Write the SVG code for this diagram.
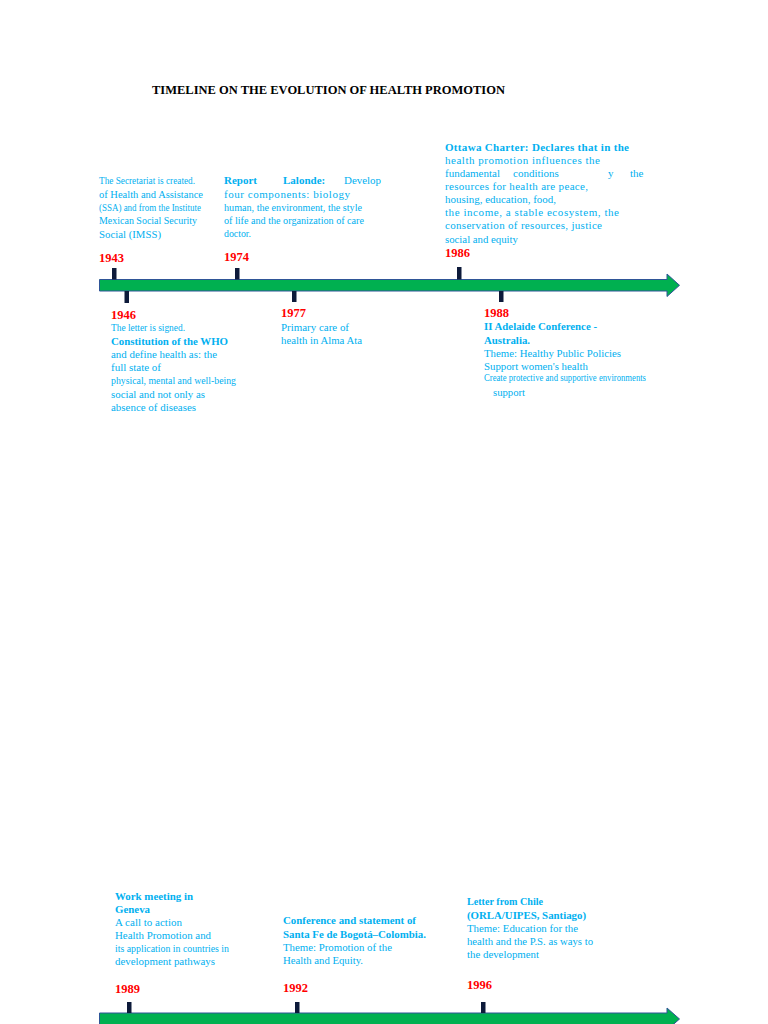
<svg xmlns="http://www.w3.org/2000/svg" width="768" height="1024" viewBox="0 0 768 1024">
<style>
text{font-family:"Liberation Serif","Times New Roman",serif}
.t{fill:#00B0F0;font-size:11px}
.s{fill:#00B0F0;font-size:10px}
.b{fill:#00B0F0;font-size:11px;font-weight:bold}
.y{fill:#FF0000;font-size:12.5px;font-weight:bold}
.title{fill:#000;font-size:12px;font-weight:bold}
.tick{fill:#0D1A3A}
.arrow{fill:#00B050;stroke:#2F5597;stroke-width:1}
</style>
<rect width="768" height="1024" fill="#fff"/>
<text class="title" x="152" y="94" textLength="353" lengthAdjust="spacingAndGlyphs">TIMELINE ON THE EVOLUTION OF HEALTH PROMOTION</text>

<g id="connectors">
<path class="arrow" d="M99.5,279.5 H667 V274 L679.5,285.3 L667,296.5 V291 H99.5 Z"/>
<path class="arrow" d="M99.5,1013 H667 V1008 L679.5,1019 L667,1030 V1025 H99.5 Z"/>
<rect class="tick" x="112" y="268" width="4.5" height="11.5"/>
<rect class="tick" x="235" y="268" width="4.5" height="11.5"/>
<rect class="tick" x="457" y="267" width="4.5" height="12.5"/>
<rect class="tick" x="124.5" y="291" width="4.5" height="12"/>
<rect class="tick" x="292" y="291" width="4.5" height="11"/>
<rect class="tick" x="499" y="291" width="4.5" height="11"/>
<rect class="tick" x="127" y="1002" width="4.5" height="11"/>
<rect class="tick" x="295" y="1002" width="4.5" height="11"/>
<rect class="tick" x="481" y="1002" width="4.5" height="11"/>
</g>

<g id="n1943">
<text class="s" x="99" y="184" textLength="96" lengthAdjust="spacingAndGlyphs">The Secretariat is created.</text>
<text class="t" x="99" y="198" textLength="104" lengthAdjust="spacingAndGlyphs">of Health and Assistance</text>
<text class="s" x="99" y="211" textLength="102" lengthAdjust="spacingAndGlyphs">(SSA) and from the Institute</text>
<text class="t" x="99" y="224" textLength="98" lengthAdjust="spacingAndGlyphs">Mexican Social Security</text>
<text class="t" x="99" y="238" textLength="62" lengthAdjust="spacingAndGlyphs">Social (IMSS)</text>
<text class="y" x="99" y="262">1943</text>
</g>

<g id="n1974">
<text class="b" x="224" y="184">Report</text>
<text class="b" x="283" y="184">Lalonde:</text>
<text class="t" x="344" y="184" textLength="37" lengthAdjust="spacingAndGlyphs">Develop</text>
<text class="t" x="224" y="198" textLength="126" lengthAdjust="spacing">four components: biology</text>
<text class="s" x="224" y="211" textLength="138" lengthAdjust="spacingAndGlyphs">human, the environment, the style</text>
<text class="s" x="224" y="224" textLength="140" lengthAdjust="spacingAndGlyphs">of life and the organization of care</text>
<text class="s" x="224" y="237" textLength="27" lengthAdjust="spacingAndGlyphs">doctor.</text>
<text class="y" x="224" y="261">1974</text>
</g>

<g id="n1986">
<text class="b" x="445" y="151" textLength="184" lengthAdjust="spacing">Ottawa Charter: Declares that in the</text>
<text class="t" x="445" y="164" textLength="155" lengthAdjust="spacing">health promotion influences the</text>
<text class="t" x="445" y="177">fundamental</text>
<text class="t" x="513" y="177">conditions</text>
<text class="t" x="608" y="177">y</text>
<text class="t" x="630" y="177">the</text>
<text class="t" x="445" y="190" textLength="143" lengthAdjust="spacing">resources for health are peace,</text>
<text class="t" x="445" y="203" textLength="111" lengthAdjust="spacingAndGlyphs">housing, education, food,</text>
<text class="t" x="445" y="216" textLength="174" lengthAdjust="spacing">the income, a stable ecosystem, the</text>
<text class="t" x="445" y="229" textLength="157" lengthAdjust="spacing">conservation of resources, justice</text>
<text class="t" x="445" y="243" textLength="73" lengthAdjust="spacingAndGlyphs">social and equity</text>
<text class="y" x="445" y="257">1986</text>
</g>

<g id="n1946">
<text class="y" x="111" y="319">1946</text>
<text class="s" x="111" y="331" textLength="74" lengthAdjust="spacingAndGlyphs">The letter is signed.</text>
<text class="b" x="111" y="345" textLength="117" lengthAdjust="spacingAndGlyphs">Constitution of the WHO</text>
<text class="t" x="111" y="358" textLength="106" lengthAdjust="spacingAndGlyphs">and define health as: the</text>
<text class="t" x="111" y="371" textLength="50" lengthAdjust="spacingAndGlyphs">full state of</text>
<text class="s" x="111" y="384" textLength="125" lengthAdjust="spacingAndGlyphs">physical, mental and well-being</text>
<text class="t" x="111" y="398" textLength="94" lengthAdjust="spacingAndGlyphs">social and not only as</text>
<text class="t" x="111" y="411" textLength="85" lengthAdjust="spacingAndGlyphs">absence of diseases</text>
</g>

<g id="n1977">
<text class="y" x="281" y="317">1977</text>
<text class="t" x="281" y="331" textLength="68" lengthAdjust="spacingAndGlyphs">Primary care of</text>
<text class="t" x="281" y="344" textLength="81" lengthAdjust="spacingAndGlyphs">health in Alma Ata</text>
</g>

<g id="n1988">
<text class="y" x="484" y="317">1988</text>
<text class="b" x="484" y="330" textLength="113" lengthAdjust="spacingAndGlyphs">II Adelaide Conference -</text>
<text class="b" x="484" y="344" textLength="46" lengthAdjust="spacingAndGlyphs">Australia.</text>
<text class="t" x="484" y="357" textLength="137" lengthAdjust="spacingAndGlyphs">Theme: Healthy Public Policies</text>
<text class="t" x="484" y="370" textLength="104" lengthAdjust="spacingAndGlyphs">Support women's health</text>
<text class="s" x="484" y="381" font-size="8.5" textLength="162" lengthAdjust="spacingAndGlyphs">Create protective and supportive environments</text>
<text class="s" x="493" y="396" textLength="32" lengthAdjust="spacingAndGlyphs">support</text>
</g>

<g id="n1989">
<text class="b" x="115" y="900" textLength="78" lengthAdjust="spacingAndGlyphs">Work meeting in</text>
<text class="b" x="115" y="913" textLength="35" lengthAdjust="spacingAndGlyphs">Geneva</text>
<text class="t" x="115" y="926" textLength="67" lengthAdjust="spacingAndGlyphs">A call to action</text>
<text class="t" x="115" y="939" textLength="96" lengthAdjust="spacingAndGlyphs">Health Promotion and</text>
<text class="s" x="115" y="952" textLength="114" lengthAdjust="spacingAndGlyphs">its application in countries in</text>
<text class="t" x="115" y="965" textLength="100" lengthAdjust="spacingAndGlyphs">development pathways</text>
<text class="y" x="115" y="993">1989</text>
</g>

<g id="n1992">
<text class="b" x="283" y="924" textLength="133" lengthAdjust="spacingAndGlyphs">Conference and statement of</text>
<text class="b" x="283" y="938" textLength="143" lengthAdjust="spacingAndGlyphs">Santa Fe de Bogotá–Colombia.</text>
<text class="t" x="283" y="951" textLength="109" lengthAdjust="spacingAndGlyphs">Theme: Promotion of the</text>
<text class="t" x="283" y="964" textLength="80" lengthAdjust="spacingAndGlyphs">Health and Equity.</text>
<text class="y" x="283" y="992">1992</text>
</g>

<g id="n1996">
<text class="b" x="467" y="905" textLength="76" lengthAdjust="spacingAndGlyphs">Letter from Chile</text>
<text class="b" x="467" y="919" textLength="119" lengthAdjust="spacingAndGlyphs">(ORLA/UIPES, Santiago)</text>
<text class="t" x="467" y="932" textLength="111" lengthAdjust="spacingAndGlyphs">Theme: Education for the</text>
<text class="t" x="467" y="945" textLength="126" lengthAdjust="spacingAndGlyphs">health and the P.S. as ways to</text>
<text class="t" x="467" y="958" textLength="72" lengthAdjust="spacingAndGlyphs">the development</text>
<text class="y" x="467" y="989">1996</text>
</g>
</svg>
